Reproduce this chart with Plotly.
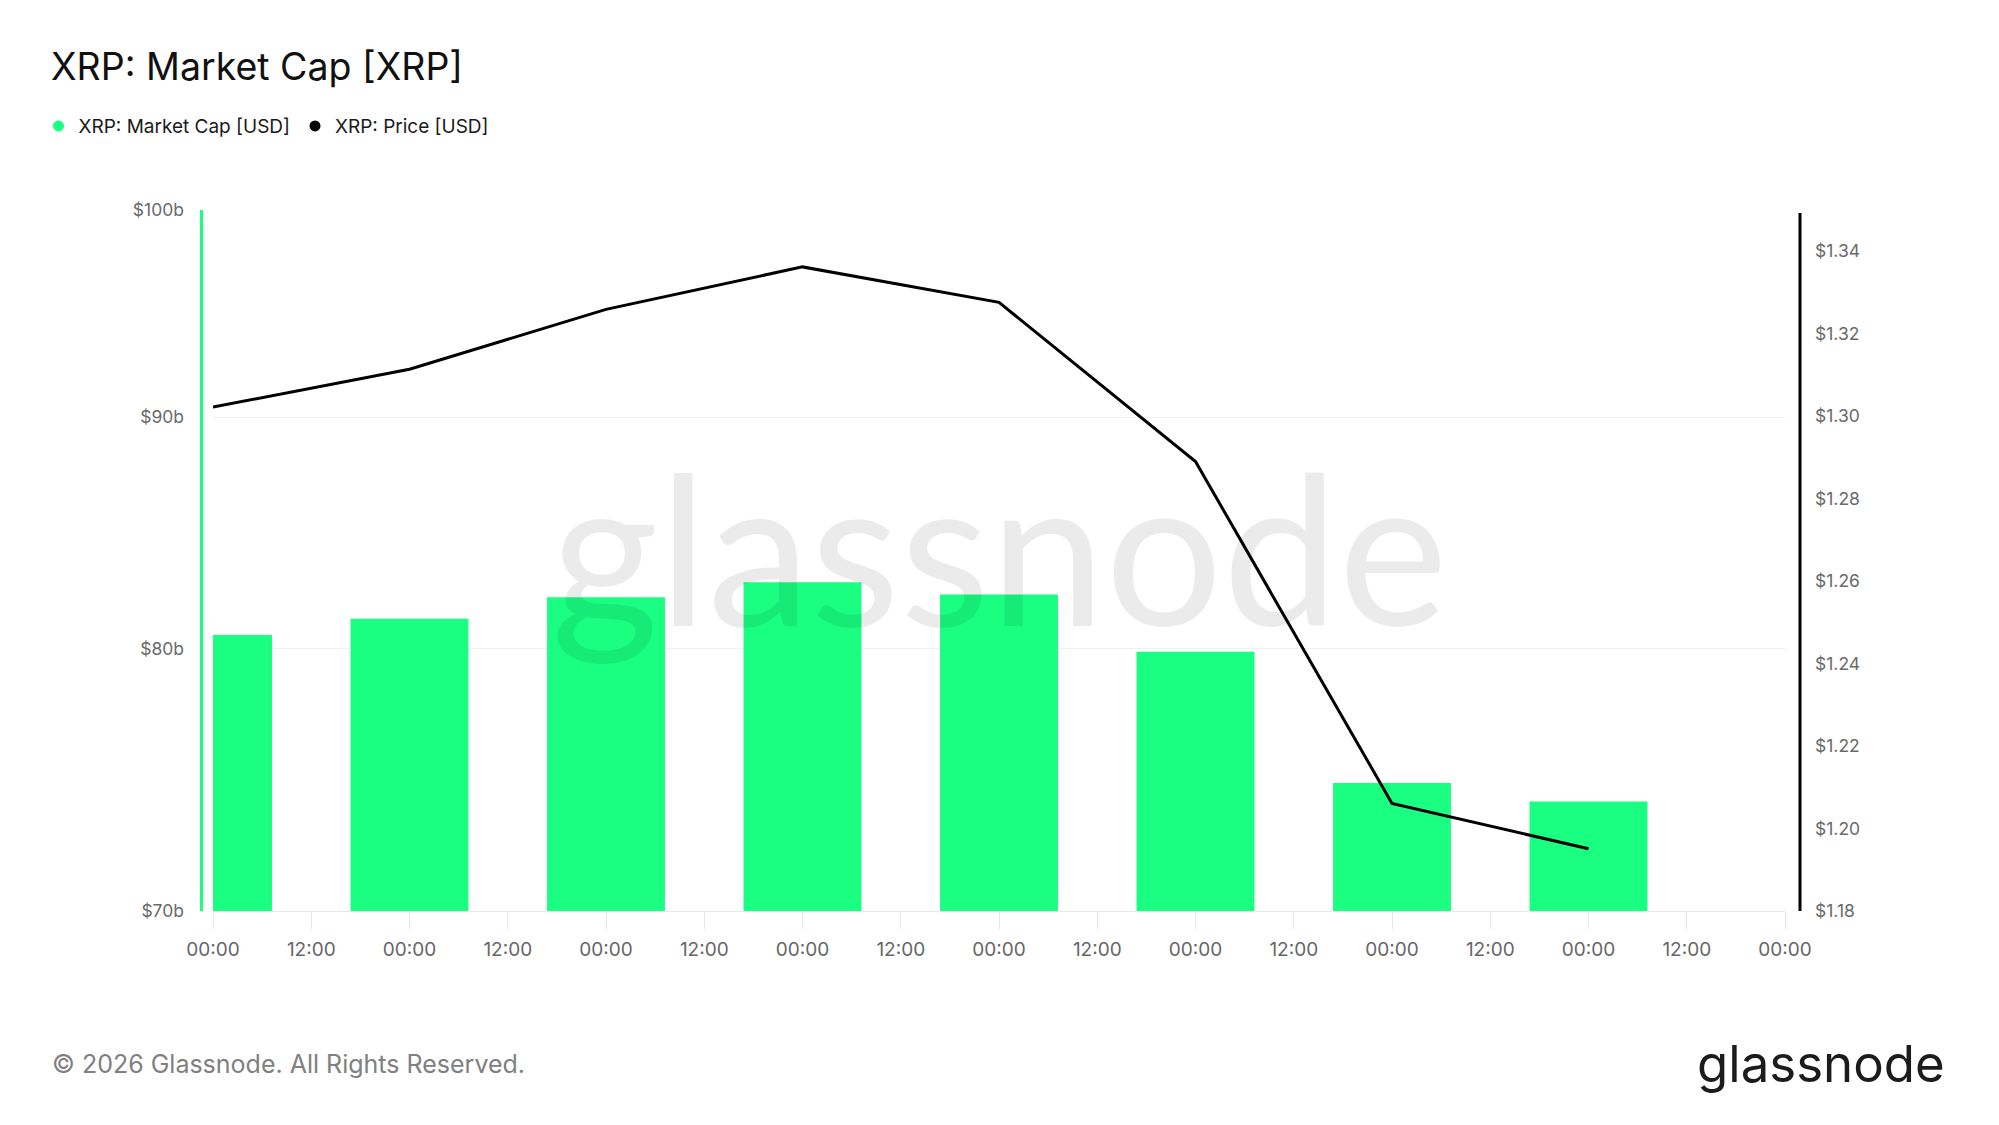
import plotly.graph_objects as go
import pandas as pd

# ---- data ----
dates = pd.date_range("2026-01-30", periods=8, freq="D")
market_cap_b = [80.55, 81.22, 82.12, 82.75, 82.23, 79.87, 74.71, 74.01]   # USD billions
price_usd = [1.3022, 1.3114, 1.3259, 1.3362, 1.3276, 1.2890, 1.2061, 1.1951]

left_ticks = [70e9, 80e9, 90e9, 100e9]
left_ticktext = ["$70b", "$80b", "$90b", "$100b"]
right_ticks = [1.18, 1.20, 1.22, 1.24, 1.26, 1.28, 1.30, 1.32, 1.34]
right_ticktext = ["$%.2f" % v for v in right_ticks]

GREEN = "#1aff82"
W, H = 1999, 1125
L, R, T, B = 213, 214, 210, 213.5
plot_w = W - L - R
plot_h = H - T - B

fig = go.Figure()

fig.add_trace(go.Bar(
    x=dates, y=[v * 1e9 for v in market_cap_b],
    width=0.6 * 86400000,
    marker=dict(color=GREEN, line=dict(width=0)),
    name="XRP: Market Cap [USD]", showlegend=False, yaxis="y",
))
fig.add_trace(go.Scatter(
    x=dates, y=price_usd, mode="lines",
    line=dict(color="#000000", width=3),
    name="XRP: Price [USD]", showlegend=False, yaxis="y2",
))
# legend entries
fig.add_trace(go.Scatter(x=[None], y=[None], mode="markers",
                         marker=dict(color=GREEN, size=11),
                         name="XRP: Market Cap [USD]"))
fig.add_trace(go.Scatter(x=[None], y=[None], mode="markers",
                         marker=dict(color="#000000", size=11),
                         name="XRP: Price [USD]", yaxis="y2"))

tick_font = dict(family="Inter, sans-serif", size=17.5, color="#6a6a6a")

fig.update_layout(
    width=W, height=H,
    margin=dict(l=L, r=R, t=T, b=B),
    paper_bgcolor="white", plot_bgcolor="white",
    bargap=0.4,
    title=dict(text="XRP: Market Cap [XRP]", x=51 / W, xanchor="left",
               xref="container", y=1 - 67 / H, yanchor="middle", yref="container",
               font=dict(family="Inter, sans-serif", size=37.5, color="#111111")),
    legend=dict(orientation="h", x=-0.111, xanchor="left",
                y=(H - B - 126) / plot_h, yanchor="middle",
                font=dict(family="Inter, sans-serif", size=19, color="#1a1a1a"),
                itemwidth=30, tracegroupgap=0, bgcolor="rgba(0,0,0,0)"),
    xaxis=dict(
        type="date",
        range=[dates[0], dates[0] + pd.Timedelta(days=8)],
        tick0=dates[0], dtick=43200000, tickformat="%H:%M",
        showgrid=False, showline=True, linecolor="#e8e8e8", linewidth=1,
        ticks="outside", ticklen=17, tickcolor="#e8e8e8", tickwidth=1,
        tickfont=dict(family="Inter, sans-serif", size=19, color="#666666"),
        ticklabelstandoff=4, zeroline=False,
    ),
    yaxis=dict(
        type="log",
        range=[10.845098, 11.0],
        tickvals=left_ticks, ticktext=left_ticktext,
        showgrid=True, gridcolor="#f0f0f0", gridwidth=1,
        showline=False, zeroline=False, ticks="",
        tickfont=tick_font, ticklabelstandoff=28,
    ),
    yaxis2=dict(
        overlaying="y", side="right",
        range=[1.18, 1.35],
        tickvals=right_ticks, ticktext=right_ticktext,
        showgrid=False, showline=False, zeroline=False, ticks="",
        tickfont=tick_font, ticklabelstandoff=29,
    ),
    shapes=[
        dict(type="line", xref="paper", yref="paper",
             x0=-11.5 / plot_w, x1=-11.5 / plot_w, y0=0, y1=1,
             line=dict(color=GREEN, width=3)),
        dict(type="line", xref="paper", yref="paper",
             x0=1 + 15 / plot_w, x1=1 + 15 / plot_w, y0=0, y1=(H - B - 213) / plot_h,
             line=dict(color="#000000", width=3)),
    ],
    annotations=[
        dict(text="glassnode", xref="paper", yref="paper", x=0.5, y=0.52,
             xanchor="center", yanchor="middle", showarrow=False,
             font=dict(family="Lato, sans-serif", size=207, color="rgba(0,0,0,0.08)")),
        dict(text="© 2026 Glassnode. All Rights Reserved.", xref="paper", yref="paper",
             x=-(L - 50) / plot_w, y=-(1065 - (H - B)) / plot_h,
             xanchor="left", yanchor="middle", showarrow=False,
             font=dict(family="Inter, sans-serif", size=25, color="#808080")),
        dict(text="glassnode", xref="paper", yref="paper",
             x=1 + (1947 - (W - R)) / plot_w, y=-(1064 - (H - B)) / plot_h,
             xanchor="right", yanchor="middle", showarrow=False,
             font=dict(family="Inter, sans-serif", size=51, color="#1c1c1c")),
    ],
)

fig.write_html("out.html")
